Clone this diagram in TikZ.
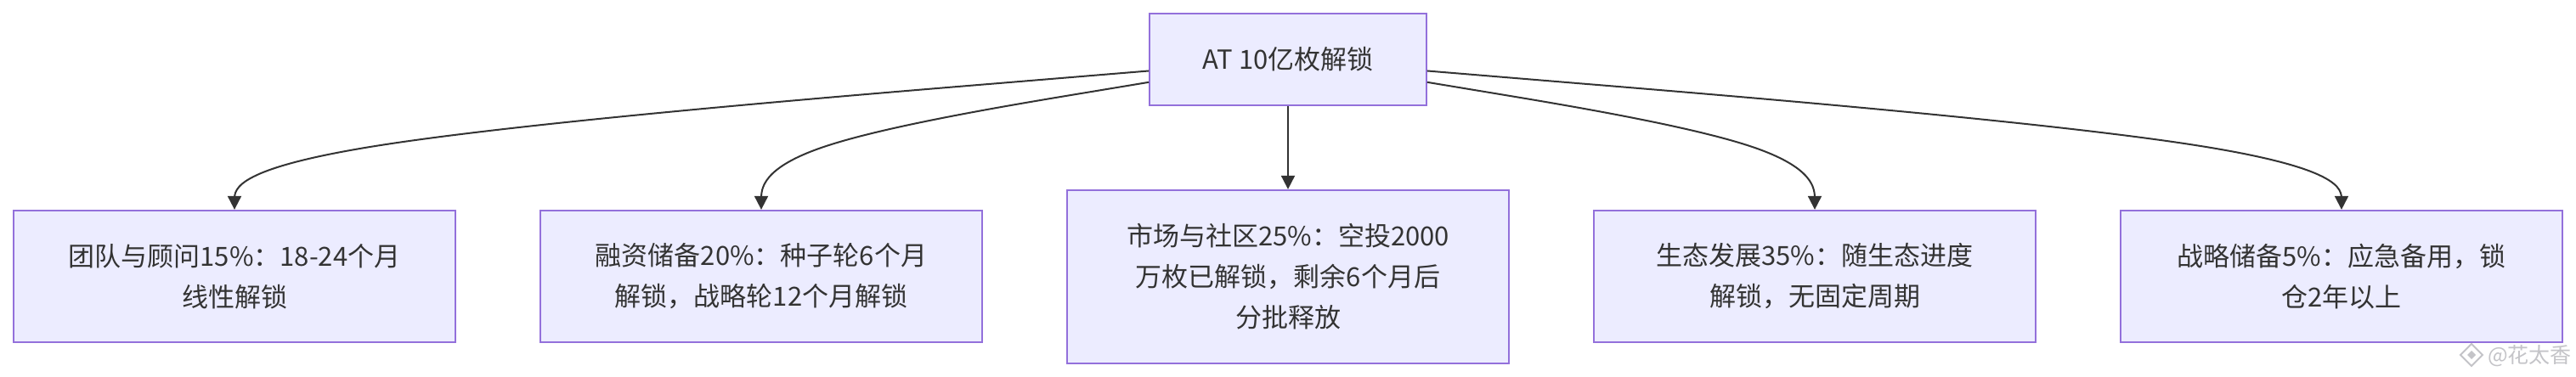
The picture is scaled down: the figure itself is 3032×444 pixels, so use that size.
\documentclass[tikz,border=0pt]{standalone}
\usepackage{fontspec}
\newfontfamily\cjk{Noto Sans CJK SC}
\usetikzlibrary{arrows.meta}
\definecolor{boxfill}{HTML}{ECECFF}
\definecolor{boxline}{HTML}{9370DB}
\definecolor{ink}{HTML}{333333}
\definecolor{wm}{HTML}{C4C4C8}
\begin{document}
\begin{tikzpicture}[x=1pt,y=-1pt,
  box/.style={draw=boxline, fill=boxfill, line width=1.7pt, inner sep=0pt,
    minimum width=520pt, minimum height=155.6pt, align=center, text=ink,
    font=\cjk\fontsize{31}{48}\selectfont},
  edge/.style={draw=ink, line width=2pt, -{Triangle[length=16pt,width=16pt]}},
  wmark/.style={text=wm, font=\cjk\fontsize{25}{28}\selectfont, inner sep=0pt}]
\useasboundingbox (0,0) rectangle (3032,444);
\fill[white] (0,0) rectangle (3032,444);

\node[box, minimum width=326pt, minimum height=108pt] (top) at (1516,70) {AT 10亿枚解锁};
\node[box] (b1) at (276,325.5) {团队与顾问15\%：18-24个月\\线性解锁};
\node[box] (b2) at (896,325.5) {融资储备20\%：种子轮6个月\\解锁，战略轮12个月解锁};
\node[box, minimum height=204.3pt] (b3) at (1516,325.85) {市场与社区25\%：空投2000\\万枚已解锁，剩余6个月后\\分批释放};
\node[box] (b4) at (2136,325.5) {生态发展35\%：随生态进度\\解锁，无固定周期};
\node[box] (b5) at (2756,325.5) {战略储备5\%：应急备用，锁\\仓2年以上};

\draw[edge] (top) -- (1173.5,98.2) .. controls (994,112.9) and (635,142.5) .. (455.5,169.85)
  .. controls (276,197.2) and (276,222.5) .. (276,235.1) -- (b1.north);
\draw[edge] (top) -- (1276.8,109.3) .. controls (1200.7,121.9) and (1048.3,146.9) .. (972.2,172.1)
  .. controls (896,197.2) and (896,222.5) .. (896,235.1) -- (b2.north);
\draw[edge] (top) -- (b3);
\draw[edge] (top) -- (1755.2,109.3) .. controls (1831.3,121.9) and (1983.7,146.9) .. (2059.8,172.1)
  .. controls (2136,197.2) and (2136,222.5) .. (2136,235.1) -- (b4.north);
\draw[edge] (top) -- (1858.5,98.2) .. controls (2038,112.9) and (2397,142.5) .. (2576.5,169.85)
  .. controls (2756,197.2) and (2756,222.5) .. (2756,235.1) -- (b5.north);

% watermark
\draw[wm, line width=2pt] (2909,405) -- (2922,418) -- (2909,431) -- (2896,418) -- cycle;
\fill[wm] (2909,413) -- (2914,418) -- (2909,423) -- (2904,418) -- cycle;
\node[wmark, anchor=west] (wmtext) at (2928,419) {@花太香};
\end{tikzpicture}
\end{document}
